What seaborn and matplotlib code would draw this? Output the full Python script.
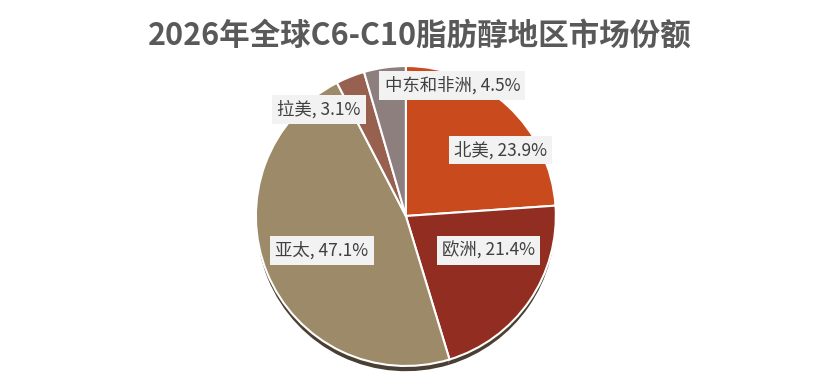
import matplotlib
matplotlib.use("Agg")
import matplotlib.pyplot as plt
import seaborn as sns

sns.set_theme(style="white")
plt.rcParams['font.family'] = ['Noto Sans CJK SC', 'DejaVu Sans']

regions = ["北美", "欧洲", "亚太", "拉美", "中东和非洲"]
shares = [23.9, 21.4, 47.1, 3.1, 4.5]
colors = ["#C94A1C", "#922D22", "#9C8A68", "#98604F", "#8E7F7F"]
title = "2026年全球C6-C10脂肪醇地区市场份额"

# label box centres (layout, in pie-radius units)
label_xy = [(0.63, 0.44), (0.55, -0.23), (-0.56, -0.23), (-0.58, 0.71), (0.31, 0.87)]

fig = plt.figure(figsize=(8.3, 3.92), dpi=100)
fig.patch.set_facecolor("white")
ax = fig.add_axes([0.489 - 0.1843, 0.449 - 0.3903, 0.3686, 0.7806])

# shadow
ax.pie(shares, startangle=90, counterclock=False, radius=0.995,
       colors=["#4a3f33"] * len(shares), center=(0.0, -0.04),
       wedgeprops=dict(linewidth=0))
wedges, _ = ax.pie(shares, startangle=90, counterclock=False, radius=1.0,
                   colors=colors,
                   wedgeprops=dict(edgecolor="white", linewidth=1.5))
ax.set_aspect("equal")
ax.set_xlim(-1.02, 1.02)
ax.set_ylim(-1.02, 1.02)
ax.axis("off")

for name, val, (x, y) in zip(regions, shares, label_xy):
    ax.text(x, y, f"{name}, {val}%", ha="center", va="center",
            fontsize=12.5, color="#404040",
            bbox=dict(boxstyle="square,pad=0.3", facecolor="#F2F2F2",
                      edgecolor="none"))

fig.text(0.506, 0.91, title, ha="center", va="center", fontsize=22,
         fontweight="bold", color="#595959")

fig.savefig("out.png", dpi=100)
